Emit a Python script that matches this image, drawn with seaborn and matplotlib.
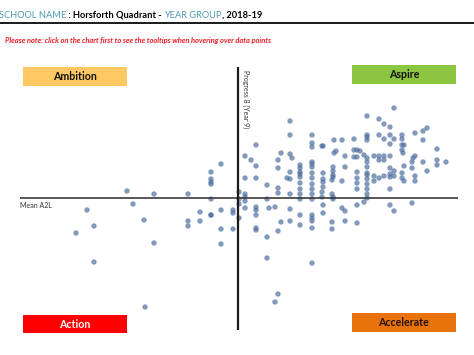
import matplotlib
matplotlib.use("Agg")
import matplotlib.pyplot as plt
import seaborn as sns
import pandas as pd
from matplotlib.patches import Rectangle
from matplotlib.lines import Line2D

# ---- data ----
left_x = [-2.22, -1.68, -1.00, -0.54, -0.34, -0.54, -0.54, -0.54, -0.54, 0.02,
          0.02, 0.02, 0.02, -2.10, -3.02, -2.88, -3.24, -1.88, -1.00, -1.00,
          -0.76, -0.76, -0.54, -0.54, -0.34, -0.10, -0.10, -0.34, -0.10, -1.68,
          -0.34, -2.88, -1.86]
left_y = [0.14, 0.08, 0.08, 0.52, 0.68, 0.38, 0.32, 0.28, -0.02, 0.12,
          -0.02, -0.12, -0.40, -0.12, -0.24, -0.56, -0.70, -0.44, -0.46, -0.56,
          -0.28, -0.46, -0.34, -0.34, -0.24, -0.24, -0.30, -0.62, -0.62, -0.90,
          -0.92, -1.28, -2.18]

low_right_x = [0.14, 0.14, 0.14, 0.14, 0.36, 0.36, 0.36, 0.36, 0.36, 0.58,
               0.58, 0.58, 0.58, 0.62, 0.74, 0.80, 0.80, 0.80, 0.80, 0.74,
               0.86, 1.04, 1.04, 1.04, 1.24, 1.24, 1.24, 1.24, 1.48, 1.48,
               1.48, 1.48, 1.48, 1.48, 1.48, 1.68, 1.68, 1.70, 1.70, 1.88,
               1.90, 1.90, 1.88, 1.88, 2.08, 2.14, 2.14, 2.38, 2.38, 2.52,
               2.58, 3.04, 3.12, 3.48]
low_right_y = [0.08, 0.02, -0.06, -0.20, -0.18, -0.24, -0.34, -0.60, -0.64, 0.26,
               -0.02, -0.78, -1.20, -0.20, -0.18, 0.20, 0.10, -0.66, -1.92, -2.08,
               -0.48, 0.08, -0.22, -0.46, 0.08, -0.02, -0.34, -0.54, 0.08, -0.02,
               -0.34, -0.40, -0.46, -0.60, -1.30, 0.12, 0.02, -0.14, -0.30, 0.08,
               0.02, -0.02, -0.48, -0.62, -0.20, -0.26, -0.46, -0.14, -0.50, -0.08,
               0.00, -0.14, -0.26, -0.10]

up_right_x = [3.12, 2.58, 2.82, 2.92, 3.04, 3.78, 3.70, 3.54, 1.04, 1.04,
              1.48, 1.48, 1.48, 1.68, 1.70, 1.92, 2.08, 2.32, 2.58, 2.58,
              2.58, 2.82, 2.92, 3.04, 3.12, 3.28, 3.28, 3.70, 3.04, 3.28,
              3.28, 3.32, 3.30, 0.36, 0.14, 0.26, 0.36, 0.14, 0.36, 0.86,
              0.80, 0.80, 1.04, 1.08, 1.04, 0.98, 1.04, 1.24, 1.24, 1.24,
              1.24, 1.24, 1.24, 1.24, 1.48, 1.48, 1.48, 1.48, 1.48, 1.48,
              1.48, 1.70, 1.70, 1.70, 1.70, 1.90, 1.90, 1.90, 1.90, 1.88,
              1.92, 1.96, 2.08, 2.14, 2.14, 2.32, 2.38, 2.44, 2.32, 2.38,
              2.38, 2.38, 2.38, 2.38, 2.52, 2.58, 2.58, 2.58, 2.58, 2.58,
              2.58, 2.58, 2.58, 2.58, 2.72, 2.82, 2.82, 2.92, 2.92, 2.72,
              2.72, 2.82, 2.92, 3.04, 3.04, 3.04, 3.04, 3.12, 3.12, 3.04,
              3.32, 3.28, 3.28, 3.32, 3.54, 3.50, 3.48, 3.48, 3.54, 3.54,
              3.70, 3.78, 3.98, 3.98, 3.98, 4.16]
up_right_y = [1.80, 1.64, 1.58, 1.48, 1.42, 1.40, 1.34, 1.30, 1.54, 1.26,
              1.26, 1.10, 1.02, 1.04, 1.04, 1.16, 1.16, 1.18, 1.26, 1.22,
              1.16, 1.26, 1.18, 1.26, 1.18, 1.26, 1.18, 1.16, 1.08, 1.06,
              0.96, 1.06, 0.90, 1.06, 0.84, 0.76, 0.64, 0.40, 0.40, 0.90,
              0.76, 0.60, 0.88, 0.80, 0.52, 0.40, 0.38, 0.66, 0.60, 0.52,
              0.48, 0.42, 0.30, 0.18, 0.72, 0.68, 0.62, 0.50, 0.40, 0.28,
              0.18, 0.50, 0.38, 0.32, 0.22, 0.62, 0.54, 0.46, 0.42, 0.36,
              0.90, 0.94, 0.34, 0.84, 0.62, 0.96, 0.96, 0.94, 0.82, 0.82,
              0.52, 0.40, 0.30, 0.18, 0.86, 0.80, 0.72, 0.62, 0.50, 0.46,
              0.38, 0.28, 0.18, 0.08, 0.84, 0.84, 0.76, 0.84, 0.76, 0.44,
              0.34, 0.40, 0.44, 0.84, 0.60, 0.48, 0.42, 0.54, 0.44, 0.18,
              0.64, 0.50, 0.40, 0.34, 0.84, 0.80, 0.72, 0.60, 0.44, 0.34,
              0.72, 0.54, 0.98, 0.76, 0.66, 0.72]

quadrant_labels = ["Ambition", "Aspire", "Action", "Accelerate"]
title_parts = ["SCHOOL NAME", " : Horsforth Quadrant - ", "YEAR GROUP", ", 2018-19"]
note_text = "Please note: click on the chart first to see the tooltips when hovering over data points"
x_label = "Mean A2L"
y_label = "Progress 8 (Year 9)"

# ---- figure ----
sns.set_theme(style="white")
plt.rcParams['font.family'] = ['Lato', 'DejaVu Sans']

W, H = 474, 355
fig = plt.figure(figsize=(W / 100, H / 100), dpi=100)
fig.patch.set_facecolor("white")


def fx(px):
    return px / W


def fy(py):
    return 1 - py / H


df = pd.DataFrame({
    "Mean A2L": left_x + low_right_x + up_right_x,
    "Progress 8": left_y + low_right_y + up_right_y,
})

ax = fig.add_axes([fx(20), fy(330), (458 - 20) / W, (330 - 67) / H])
sns.scatterplot(data=df, x="Mean A2L", y="Progress 8", ax=ax, color="#4f6f9f",
                alpha=0.7, s=15, edgecolor="none", linewidth=0)
ax.set_xlim(-4.36, 4.40)
ax.set_ylim(-2.64, 2.62)
ax.axhline(0, color="#3a3a3a", lw=1.2, zorder=1)
ax.axvline(0, color="#1a1a1a", lw=1.6, zorder=1)
ax.set_xticks([])
ax.set_yticks([])
ax.set_xlabel("")
ax.set_ylabel("")
for s in ax.spines.values():
    s.set_visible(False)
ax.patch.set_alpha(0)

fig.canvas.draw()
renderer = fig.canvas.get_renderer()


def width_px(text, size, **kw):
    t = fig.text(0, 0, text, fontsize=size, **kw)
    w = t.get_window_extent(renderer).width
    t.remove()
    return w


def fit_size(text, target, **kw):
    return 10 * target / width_px(text, 10, **kw)


# title
teal = "#4a9bb5"
styles = [dict(color=teal, fontweight="normal"), dict(color="black", fontweight="bold"),
          dict(color=teal, fontweight="normal"), dict(color="black", fontweight="bold")]
full_w10 = sum(width_px(p + "|", 10, fontweight=st["fontweight"]) -
               width_px("|", 10, fontweight=st["fontweight"]) for p, st in zip(title_parts, styles))
tsize = 10 * 262 / full_w10
xpos = -1.0
for p, st in zip(title_parts, styles):
    fig.text(fx(xpos), fy(15), p, fontsize=tsize, va="center", ha="left", **st)
    xpos += (width_px(p + "|", tsize, fontweight=st["fontweight"]) -
             width_px("|", tsize, fontweight=st["fontweight"]))

fig.add_artist(Line2D([0, 1], [fy(23), fy(23)], transform=fig.transFigure,
                      color="#1a1a1a", lw=1.4))

# note
nsize = fit_size(note_text, 267, fontweight="bold", fontstyle="italic")
fig.text(fx(5), fy(40), note_text, fontsize=nsize, fontweight="bold", fontstyle="italic",
         color="#ee1c25", va="center", ha="left")

# quadrant boxes
boxes = [
    (23, 67, 127, 86, "#ffc862", "#111111"),
    (352, 65, 456, 84, "#8cc540", "#111111"),
    (23, 315, 127, 333, "#ff0000", "white"),
    (352, 313, 456, 332, "#e8720c", "#2a1205"),
]
bsize = fit_size("Ambition", 44, fontweight="bold")
for (x0, y0, x1, y1, fc, tc), lab in zip(boxes, quadrant_labels):
    fig.add_artist(Rectangle((fx(x0), fy(y1)), (x1 - x0) / W, (y1 - y0) / H,
                             transform=fig.transFigure, facecolor=fc, edgecolor="none"))
    fig.text(fx((x0 + x1) / 2), fy((y0 + y1) / 2), lab, fontsize=bsize, fontweight="bold",
             color=tc, ha="center", va="center")

# axis labels
lsize = fit_size(x_label, 32)
fig.text(fx(20), fy(206), x_label, fontsize=lsize, color="#333333", ha="left", va="center")
fig.text(fx(245.5), fy(70), y_label, fontsize=lsize, color="#333333", ha="center", va="top",
         rotation=270)

fig.savefig("out.png", dpi=100)
